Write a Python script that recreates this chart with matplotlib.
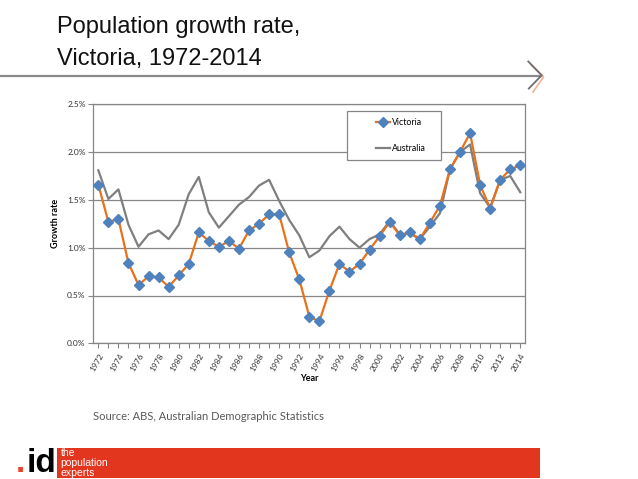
import matplotlib
matplotlib.use('Agg')
import matplotlib.pyplot as plt
from matplotlib.lines import Line2D
from matplotlib.patches import Rectangle

years = [1972, 1973, 1974, 1975, 1976, 1977, 1978, 1979, 1980, 1981,
         1982, 1983, 1984, 1985, 1986, 1987, 1988, 1989, 1990, 1991,
         1992, 1993, 1994, 1995, 1996, 1997, 1998, 1999, 2000, 2001,
         2002, 2003, 2004, 2005, 2006, 2007, 2008, 2009, 2010, 2011,
         2012, 2013, 2014]
victoria = [1.66, 1.27, 1.30, 0.84, 0.61, 0.70, 0.69, 0.59, 0.71, 0.83,
            1.16, 1.07, 1.01, 1.07, 0.99, 1.18, 1.25, 1.35, 1.35, 0.95,
            0.67, 0.28, 0.23, 0.55, 0.83, 0.75, 0.83, 0.98, 1.12, 1.27,
            1.13, 1.16, 1.09, 1.26, 1.44, 1.82, 2.00, 2.20, 1.66, 1.41,
            1.71, 1.82, 1.86]
australia = [1.81, 1.51, 1.61, 1.24, 1.01, 1.14, 1.18, 1.09, 1.24, 1.56,
             1.74, 1.37, 1.21, 1.33, 1.45, 1.53, 1.65, 1.71, 1.49, 1.29,
             1.13, 0.90, 0.97, 1.12, 1.22, 1.09, 1.00, 1.09, 1.14, 1.28,
             1.14, 1.15, 1.09, 1.22, 1.36, 1.82, 2.00, 2.08, 1.57, 1.42,
             1.71, 1.75, 1.58]
y_ticks = [0.0, 0.5, 1.0, 1.5, 2.0, 2.5]
title_lines = ['Population growth rate,', 'Victoria, 1972-2014']

W, H = 638, 479
narrow = ['Liberation Sans Narrow', 'Liberation Sans', 'DejaVu Sans']
body = ['Lato', 'DejaVu Sans']

fig = plt.figure(figsize=(W / 100, H / 100), dpi=100)

def fx(px):
    return px / W

def fy(py):
    return 1 - py / H

# axes placed in pixel terms
ax = fig.add_axes([fx(93.3), fy(343.3), fx(525.3) - fx(93.3), fy(104.3) - fy(343.3)])
grid_c = '#868686'

ax.plot(years, australia, color='#7f7f7f', lw=1.6, label='Australia', zorder=3)
ax.plot(years, victoria, color='#e8711a', lw=1.6, marker='D', markersize=4.8,
        markerfacecolor='#4f81bd', markeredgecolor='#4f81bd', label='Victoria', zorder=4)

ax.set_xlim(1971.5, 2014.5)
ax.set_ylim(0, 2.5)
ax.set_yticks(y_ticks)
ax.set_yticklabels(['{:.1f}%'.format(v) for v in y_ticks], fontsize=6, family=body, color='#333333')
ax.set_xticks(years[::2])
ax.set_xticklabels([str(y) for y in years[::2]], rotation=60, ha='right', va='top',
                   rotation_mode='anchor', fontsize=6, family=body, color='#333333')
ax.set_xticks(years, minor=True)
ax.tick_params(axis='both', which='both', direction='out', length=3.5, width=0.8, color=grid_c, pad=2)
ax.tick_params(axis='x', which='major', pad=3)
ax.yaxis.grid(True, color=grid_c, lw=0.9)
ax.set_axisbelow(True)
for s in ax.spines.values():
    s.set_color(grid_c)
    s.set_linewidth(0.9)

ax.set_xlabel('Year', fontsize=6.5, fontweight='bold', family=body, labelpad=1)
ax.set_ylabel('Growth rate', fontsize=6.5, fontweight='bold', family=body, labelpad=5)

# legend with square frame like Excel
handles, labels = ax.get_legend_handles_labels()
leg = fig.legend(handles[::-1], labels[::-1], loc='center left',
                 bbox_to_anchor=(fx(372), fy(135.5)), frameon=False, prop={'family': body, 'size': 6.3},
                 handlelength=1.6, handletextpad=0.2, labelspacing=1.9, borderpad=0)
fig.add_artist(Rectangle((fx(346.7), fy(159.5)), fx(440.5) - fx(346.7), fy(111) - fy(159.5),
                         transform=fig.transFigure, fill=True, facecolor='white',
                         edgecolor=grid_c, lw=0.9, zorder=1))

# title and header rule
fig.text(fx(57), fy(33), title_lines[0], family=narrow, fontsize=17,
         ha='left', va='baseline', color='#111111')
fig.text(fx(57), fy(65), title_lines[1], family=narrow, fontsize=17,
         ha='left', va='baseline', color='#111111')
fig.add_artist(Line2D([0, fx(541.5)], [fy(75.5), fy(75.5)], color='#8a8a8a', lw=1.6))
fig.add_artist(Line2D([fx(531.5), fx(543.5), fx(533)], [fy(65), fy(77), fy(92)], color='#f2b6a0', lw=1.3))
fig.add_artist(Line2D([fx(528.3), fx(541.7), fx(528.8)], [fy(61.5), fy(75.3), fy(88.5)], color='#6e6e6e', lw=1.3))

fig.text(fx(93), fy(417), 'Source: ABS, Australian Demographic Statistics', family=body, fontsize=8,
         color='#595959', ha='left', va='center')

# footer logo
fig.add_artist(Rectangle((fx(57), fy(478)), fx(540) - fx(57), fy(447.7) - fy(478),
                         transform=fig.transFigure, color='#e2361f', lw=0))
fig.text(fx(15.5), fy(478.8), '.', family=narrow, fontsize=24, fontweight='bold', color='#e8452a',
         ha='left', va='bottom')
fig.text(fx(26.5), fy(478.8), 'id', family=narrow, fontsize=24, fontweight='bold', color='black',
         ha='left', va='bottom')
for txt, yb in [('the', 455.5), ('population', 465.5), ('experts', 475.5)]:
    fig.text(fx(60.5), fy(yb), txt, family=narrow, fontsize=7.5, color='white', ha='left', va='baseline')

fig.savefig('out.png', dpi=100)
